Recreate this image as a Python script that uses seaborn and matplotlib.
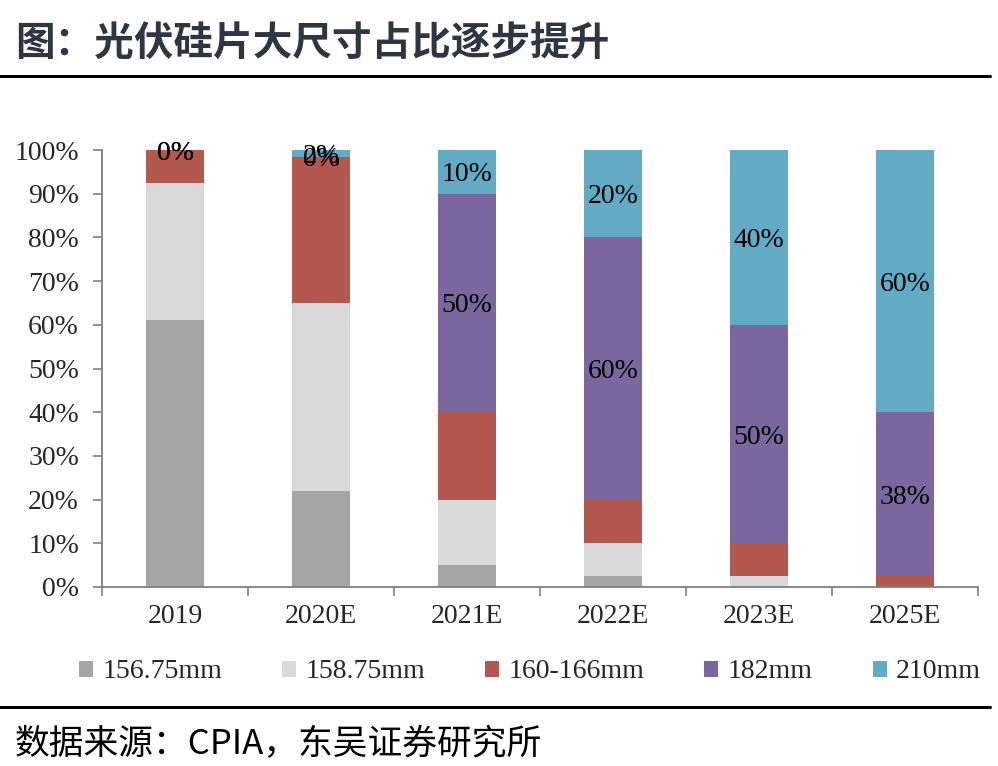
import numpy as np
import pandas as pd
import matplotlib
matplotlib.use("Agg")
import matplotlib.pyplot as plt
from matplotlib.patches import Patch
from matplotlib.lines import Line2D
import seaborn as sns

# Data (share of wafer sizes, %)
years = ["2019", "2020E", "2021E", "2022E", "2023E", "2025E"]
sizes = ["156.75mm", "158.75mm", "160-166mm", "182mm", "210mm"]
s156 = [61.0, 22.0, 5.0, 2.5, 0.0, 0.0]
s158 = [31.5, 43.0, 15.0, 7.5, 2.5, 0.0]
s160 = [7.5, 33.4, 20.0, 10.0, 7.5, 2.5]
s182 = [0.0, 0.0, 50.0, 60.0, 50.0, 37.5]
s210 = [0.0, 1.6, 10.0, 20.0, 40.0, 60.0]
colors = ["#A5A5A5", "#D9D9D9", "#B3584F", "#7B679D", "#63AAC4"]
labelled = ["182mm", "210mm"]

frame = pd.DataFrame({"year": years, "156.75mm": s156, "158.75mm": s158,
                      "160-166mm": s160, "182mm": s182, "210mm": s210})

sns.set_theme(style="white")
plt.rcParams["font.family"] = ["Liberation Serif", "DejaVu Sans"]
cjk = ["Noto Sans CJK SC", "DejaVu Sans"]

fig = plt.figure(figsize=(9.98, 7.66), dpi=100)
ax = fig.add_axes([102 / 998, 1 - 587 / 766, 876 / 998, 437 / 766])

# Stacked bars: draw cumulative totals from top layer down
cum = frame[sizes].cumsum(axis=1) / 100.0
for size, color in reversed(list(zip(sizes, colors))):
    sns.barplot(x=frame["year"], y=cum[size], color=color, width=0.4,
                saturation=1, errorbar=None, ax=ax, edgecolor="none")

# Data labels for 182mm and 210mm
for size in labelled:
    for i, yr in enumerate(years):
        top = cum.at[i, size]
        val = frame.at[i, size]
        mid = top - val / 200.0
        ax.text(i, mid, f"{val:.0f}%", ha="center", va="center_baseline",
                fontsize=20, color="black")

ax.set_xlim(-0.5, 5.5)
ax.set_ylim(0, 1)
ax.set_xlabel("")
ax.set_ylabel("")
ax.set_yticks(np.arange(0, 1.01, 0.1))
ax.set_yticklabels([f"{int(round(v * 100))}%" for v in np.arange(0, 1.01, 0.1)])
ax.set_xticks(range(len(years)))
ax.set_xticklabels(years)
ax.set_xticks(np.arange(-0.5, 5.6, 1.0), minor=True)
ax.tick_params(axis="x", which="major", length=0, pad=12, labelsize=20)
ax.tick_params(axis="x", which="minor", length=6.5, width=1.2, color="#7f7f7f",
               direction="out", bottom=True)
ax.tick_params(axis="y", length=6.5, width=1.2, color="#7f7f7f", direction="out",
               left=True, pad=10, labelsize=20)
for side in ["top", "right"]:
    ax.spines[side].set_visible(False)
for side in ["left", "bottom"]:
    ax.spines[side].set_color("#7f7f7f")
    ax.spines[side].set_linewidth(1.3)
ax.grid(False)

handles = [Patch(facecolor=c, edgecolor="none", label=s) for s, c in zip(sizes, colors)]
fig.legend(handles=handles, loc="center", bbox_to_anchor=(530 / 998, 1 - 672 / 766),
           ncol=5, frameon=False, fontsize=20, handlelength=0.5, handleheight=0.5,
           handletextpad=0.35, columnspacing=2.15)

# Title, rules and source
fig.text(15 / 998, 1 - 43 / 766, "图：光伏硅片大尺寸占比逐步提升", family=cjk,
         fontsize=28.5, color="#2E3545", va="center", ha="left", weight="bold")
fig.add_artist(Line2D([0, 990 / 998], [1 - 76 / 766] * 2, transform=fig.transFigure,
                      color="black", linewidth=2.2))
fig.add_artist(Line2D([0, 990 / 998], [1 - 707 / 766] * 2, transform=fig.transFigure,
                      color="black", linewidth=2.2))
fig.text(15 / 998, 1 - 745 / 766, "数据来源：CPIA，东吴证券研究所", family=cjk,
         fontsize=25, color="black", va="center", ha="left")

fig.savefig("out.png", dpi=100)
